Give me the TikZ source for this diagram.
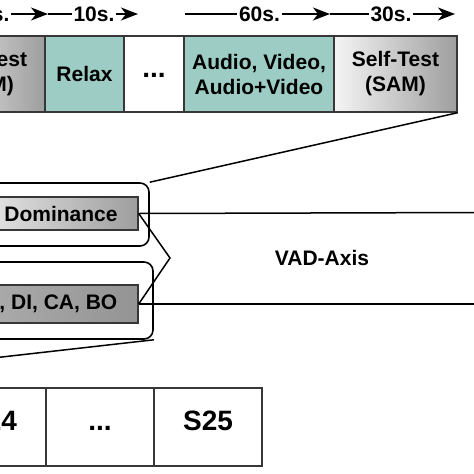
\documentclass[tikz,border=0pt]{standalone}
\usepackage{fontspec}
\setmainfont{Liberation Sans}
\usetikzlibrary{arrows.meta}
\definecolor{tealbox}{RGB}{156,204,196}
\definecolor{edgec}{RGB}{55,55,55}
\begin{document}
\begin{tikzpicture}[x=1pt,y=-1pt,
  box/.style={draw=edgec, line width=1.4pt, inner sep=0pt, align=center,
    minimum height=76pt, font=\fontsize{21}{25}\selectfont\bfseries},
  graybox/.style={box, left color=black!4, right color=black!38},
  tealb/.style={box, fill=tealbox},
  lbl/.style={inner sep=1.5pt, font=\fontsize{21}{25}\selectfont\bfseries},
  arr/.style={-{Stealth[length=17pt,width=13pt,inset=5pt]}, line width=1.5pt},
  ln/.style={line width=1.5pt},
  frame/.style={draw, line width=1.6pt, rounded corners=9pt, inner sep=0pt},
  inbox/.style={draw=edgec, line width=1.4pt, inner sep=0pt,
    font=\fontsize{21}{25}\selectfont\bfseries},
  bbox/.style={draw=edgec, line width=1.5pt, inner sep=0pt, minimum width=108pt,
    minimum height=78pt, text height=0.72em, text depth=0pt,
    font=\fontsize{28}{32}\selectfont\bfseries}
]
\useasboundingbox (0,0) rectangle (474,474);
\clip (0,0) rectangle (474,474);

% top row of boxes
\node[graybox, minimum width=123pt] (selfL) at (-16.5,74) {Self-Test\\(SAM)};
\node[tealb, minimum width=79pt] (relax) at (84.5,74) {Relax};
\node[box, fill=white, minimum width=60pt, text height=0.72em, text depth=0pt,
  font=\fontsize{28}{30}\selectfont\bfseries] (dots) at (154,74) {...};
\node[tealb, minimum width=150pt] (av) at (259,74) {Audio, Video,\\Audio+Video};
\node[graybox, minimum width=123pt] (selfR) at (395.5,74) {Self-Test\\(SAM)};

% time line
\node[lbl] (t0) at (-11,14) {30s.};
\node[lbl] (t1) at (94,14) {10s.};
\node[lbl] (t2) at (259.5,14) {60s.};
\node[lbl] (t3) at (391,14) {30s.};
\coordinate (e0) at (48,14);
\coordinate (e1) at (138,14);
\coordinate (s2) at (185,14);
\coordinate (e2) at (330,14);
\coordinate (e3) at (455,14);
\draw[arr] (t0.east) -- (e0);
\draw[ln] (e0) -- (t1.west);
\draw[arr] (t1.east) -- (e1);
\draw[ln] (s2) -- (t2.west);
\draw[arr] (t2.east) -- (e2);
\draw[ln] (e2) -- (t3.west);
\draw[arr] (t3.east) -- (e3);

% middle groups
\node[frame, minimum width=179pt, minimum height=63pt] (grp1) at (59.5,214.5) {};
\node[frame, minimum width=183pt, minimum height=77pt] (grp2) at (61.5,300.5) {};
\node[inbox, left color=black!10, right color=black!38, minimum width=154pt,
  minimum height=33pt] (dom) at (61,213.5) {Dominance};
\node[inbox, left color=black!30, right color=black!42, minimum width=200pt,
  minimum height=38pt] (low) at (38,304) {};
\node[lbl, anchor=east] (lowtxt) at (119,304) {, DI, CA, BO};

\draw[ln] (selfR.south east) -- (grp1.north east);
\coordinate (bl) at (-60,364);
\draw[ln] (grp2.south east) -- (bl);

% chevron and VAD axis
\coordinate (tip) at (170,258);
\draw[ln] (dom.east) -- (tip) -- (low.east);
\coordinate (r1) at (480,212.5);
\coordinate (r2) at (480,304);
\draw[ln] (dom.east) -- (r1);
\draw[ln] (low.east) -- (r2);
\node[lbl] (vad) at (322,258) {VAD-Axis};

% bottom row
\node[bbox] (b1) at (-8,427) {S24};
\node[bbox] (b2) at (100,427) {...};
\node[bbox] (b3) at (208,427) {S25};
\end{tikzpicture}
\end{document}
